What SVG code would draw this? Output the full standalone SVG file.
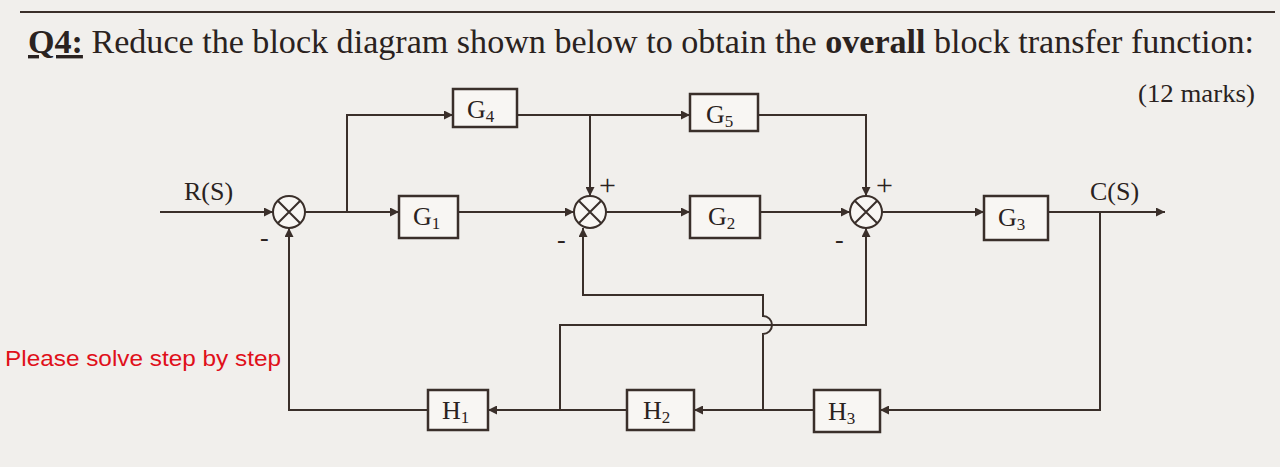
<svg xmlns="http://www.w3.org/2000/svg" width="1280" height="467" viewBox="0 0 1280 467">
<defs>
<marker id="ar" viewBox="0 0 10 10" refX="10" refY="5" markerWidth="9" markerHeight="9" markerUnits="userSpaceOnUse" orient="auto"><path d="M0,0 L10,5 L0,10 z" fill="#3a2f2a"/></marker>
<style>
.b{fill:#f8f6f3;stroke:#3a2f2a;stroke-width:2.5}
.w{fill:none;stroke:#3a2f2a;stroke-width:2}
.t{font-family:"Liberation Serif",serif;fill:#2a2220}
.s{fill:#f8f6f3;stroke:#3a2f2a;stroke-width:2}
</style>
</defs>
<rect width="1280" height="467" fill="#f1efec"/>
<line x1="20" y1="12" x2="1275" y2="12" stroke="#3a2f2a" stroke-width="2"/>
<text class="t" x="28" y="53" font-size="34" textLength="1226" lengthAdjust="spacingAndGlyphs"><tspan font-weight="bold" text-decoration="underline">Q4:</tspan> Reduce the block diagram shown below to obtain the <tspan font-weight="bold">overall</tspan> block transfer function:</text>
<text class="t" x="1138" y="102" font-size="25" textLength="117" lengthAdjust="spacingAndGlyphs">(12 marks)</text>
<text x="5" y="366" font-family="Liberation Sans,sans-serif" font-size="22" fill="#e0101a" textLength="276" lengthAdjust="spacingAndGlyphs">Please solve step by step</text>
<g id="connectors">
<path class="w" d="M160,212 H273" marker-end="url(#ar)"/>
<path class="w" d="M305,212 H399" marker-end="url(#ar)"/>
<path class="w" d="M347,212 V115 H453" marker-end="url(#ar)"/>
<path class="w" d="M517,115 H690" marker-end="url(#ar)"/>
<path class="w" d="M590,115 V196" marker-end="url(#ar)"/>
<path class="w" d="M758,115 H866 V196" marker-end="url(#ar)"/>
<path class="w" d="M458,212 H574" marker-end="url(#ar)"/>
<path class="w" d="M606,212 H690" marker-end="url(#ar)"/>
<path class="w" d="M760,212 H850" marker-end="url(#ar)"/>
<path class="w" d="M882,212 H984" marker-end="url(#ar)"/>
<path class="w" d="M1048,212 H1165" marker-end="url(#ar)"/>
<path class="w" d="M1100,212 V410 H880" marker-end="url(#ar)"/>
<path class="w" d="M814,410 H694" marker-end="url(#ar)"/>
<path class="w" d="M627,410 H488" marker-end="url(#ar)"/>
<path class="w" d="M428,410 H289 V228" marker-end="url(#ar)"/>
<path class="w" d="M763,410 V334 A9,9 0 0 0 763,316 V295 H583 V228" marker-end="url(#ar)"/>
<path class="w" d="M560,410 V325 H866 V228" marker-end="url(#ar)"/>
</g>
<g id="S1"><circle class="s" cx="289" cy="212" r="16"/><path class="w" d="M278,201 L300,223 M300,201 L278,223"/></g>
<g id="S2"><circle class="s" cx="590" cy="212" r="16"/><path class="w" d="M579,201 L601,223 M601,201 L579,223"/></g>
<g id="S3"><circle class="s" cx="866" cy="212" r="16"/><path class="w" d="M855,201 L877,223 M877,201 L855,223"/></g>
<g id="G4"><rect class="b" x="453" y="89" width="64" height="38"/><text class="t" x="467" y="118" font-size="26">G<tspan font-size="17" dy="4">4</tspan></text></g>
<g id="G5"><rect class="b" x="690" y="94" width="68" height="37"/><text class="t" x="706" y="123" font-size="26">G<tspan font-size="17" dy="4">5</tspan></text></g>
<g id="G1"><rect class="b" x="399" y="196" width="59" height="42"/><text class="t" x="413" y="225" font-size="26">G<tspan font-size="17" dy="4">1</tspan></text></g>
<g id="G2"><rect class="b" x="690" y="196" width="70" height="42"/><text class="t" x="708" y="225" font-size="26">G<tspan font-size="17" dy="4">2</tspan></text></g>
<g id="G3"><rect class="b" x="984" y="196" width="64" height="44"/><text class="t" x="998" y="226" font-size="26">G<tspan font-size="17" dy="4">3</tspan></text></g>
<g id="H1"><rect class="b" x="428" y="390" width="60" height="40"/><text class="t" x="442" y="419" font-size="26">H<tspan font-size="17" dy="4">1</tspan></text></g>
<g id="H2"><rect class="b" x="627" y="390" width="67" height="40"/><text class="t" x="643" y="419" font-size="26">H<tspan font-size="17" dy="4">2</tspan></text></g>
<g id="H3"><rect class="b" x="814" y="390" width="66" height="42"/><text class="t" x="828" y="420" font-size="26">H<tspan font-size="17" dy="4">3</tspan></text></g>
<text class="t" x="184" y="200" font-size="26">R(S)</text>
<text class="t" x="1090" y="200" font-size="26">C(S)</text>
<text class="t" x="599" y="195" font-size="30">+</text>
<text class="t" x="876" y="195" font-size="30">+</text>
<text class="t" x="260" y="246" font-size="26">-</text>
<text class="t" x="557" y="248" font-size="26">-</text>
<text class="t" x="835" y="248" font-size="26">-</text>
</svg>
